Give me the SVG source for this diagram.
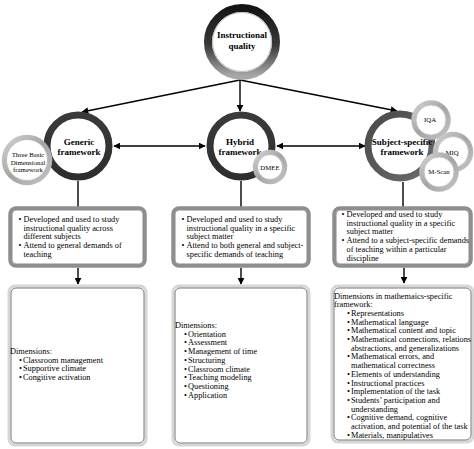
<svg xmlns="http://www.w3.org/2000/svg" width="474" height="449" viewBox="0 0 474 449">
<style>
text{font-family:"Liberation Serif","Times New Roman",serif;fill:#000}
.t{font-size:8.3px}
.h{font-size:9px;font-weight:bold;text-anchor:middle}
.s{font-size:6.8px;text-anchor:middle}
.line{stroke:#000;stroke-width:1.4;fill:none}
.bigring{fill:#fff;stroke:url(#gDark);stroke-width:7}
.smallring{fill:#fff;stroke:url(#gLight);stroke-width:4.5}
.smallin{fill:none;stroke:#9a9a9a;stroke-width:0.6}
.ubox{fill:#fff;stroke:#8e8e8e;stroke-width:3.5}
.uboxin{fill:none;stroke:#5a5a5a;stroke-width:0.7}
.lbox{fill:#fff;stroke:#d6d6d6;stroke-width:3}
.lboxin{fill:none;stroke:#6a6a6a;stroke-width:0.9}
</style>
<defs>
<linearGradient id="gTop" x1="0" y1="0" x2="0" y2="1">
<stop offset="0" stop-color="#141414"/><stop offset="0.55" stop-color="#3a3a3a"/><stop offset="1" stop-color="#a8a8a8"/>
</linearGradient>
<linearGradient id="gDark" x1="0" y1="0" x2="0" y2="1">
<stop offset="0" stop-color="#3a3a3a"/><stop offset="1" stop-color="#2e2e2e"/>
</linearGradient>
<linearGradient id="gSub" x1="0" y1="0" x2="1" y2="1">
<stop offset="0" stop-color="#4a4a4a"/><stop offset="1" stop-color="#6a6a6a"/>
</linearGradient>
<linearGradient id="gLight" x1="0" y1="0" x2="1" y2="1">
<stop offset="0" stop-color="#d2d2d2"/><stop offset="0.5" stop-color="#a4a4a4"/><stop offset="1" stop-color="#c4c4c4"/>
</linearGradient>
<marker id="arr" viewBox="0 0 10 10" refX="9" refY="5" markerWidth="5" markerHeight="5" orient="auto-start-reverse" markerUnits="strokeWidth">
<path d="M0,0 L10,5 L0,10 z" fill="#000"/>
</marker>
</defs>

<g id="connectors">
<line class="line" x1="240" y1="80" x2="82" y2="112" marker-end="url(#arr)"/>
<line class="line" x1="240" y1="80" x2="240" y2="111" marker-end="url(#arr)"/>
<line class="line" x1="240" y1="80" x2="397" y2="111" marker-end="url(#arr)"/>
<line class="line" x1="114" y1="146" x2="205" y2="146" marker-start="url(#arr)" marker-end="url(#arr)"/>
<line class="line" x1="277" y1="146" x2="365" y2="146" marker-start="url(#arr)" marker-end="url(#arr)"/>
<line class="line" x1="78" y1="181" x2="78" y2="207"/>
<line class="line" x1="241" y1="181" x2="241" y2="207"/>
<line class="line" x1="403" y1="182" x2="403" y2="207"/>
<line class="line" x1="78" y1="268" x2="78" y2="284" marker-end="url(#arr)"/>
<line class="line" x1="241" y1="268" x2="241" y2="284" marker-end="url(#arr)"/>
<line class="line" x1="404" y1="268" x2="404" y2="283" marker-end="url(#arr)"/>
</g>

<g id="node-instructional-quality">
<circle cx="242" cy="42" r="34" fill="#fff" stroke="url(#gTop)" stroke-width="8"/>
<circle cx="242" cy="42" r="29.5" fill="none" stroke="#bdbdbd" stroke-width="1"/>
<text class="h" x="242" y="38">Instructional</text>
<text class="h" x="242" y="49">quality</text>
</g>

<g id="node-generic">
<circle class="bigring" cx="78" cy="146" r="31"/>
<text class="h" x="79" y="145">Generic</text>
<text class="h" x="79" y="155">framework</text>
</g>
<g id="node-three-basic">
<circle class="smallring" cx="27" cy="160" r="23"/>
<circle class="smallin" cx="27" cy="160" r="20.5"/>
<text class="s" x="28" y="157" font-size="6.4">Three Basic</text>
<text class="s" x="28" y="164.5" font-size="6.4">Dimensional</text>
<text class="s" x="28" y="172" font-size="6.4">framework</text>
</g>

<g id="node-hybrid">
<circle class="bigring" cx="241" cy="146" r="31"/>
<text class="h" x="240" y="145">Hybrid</text>
<text class="h" x="240" y="155">framework</text>
</g>
<g id="node-dmee">
<circle class="smallring" cx="270" cy="167" r="15"/>
<circle class="smallin" cx="270" cy="167" r="12.5"/>
<text class="s" x="270" y="169.5">DMEE</text>
</g>

<g id="node-subject">
<circle cx="400" cy="146" r="32" fill="#fff" stroke="url(#gSub)" stroke-width="7"/>
<text class="h" x="402" y="145">Subject-specific</text>
<text class="h" x="402" y="155">framework</text>
</g>
<g id="node-iqa">
<circle class="smallring" cx="431" cy="120" r="17.5"/>
<circle class="smallin" cx="431" cy="120" r="15"/>
<text class="s" x="430" y="122">IQA</text>
</g>
<g id="node-miq">
<circle class="smallring" cx="453" cy="152" r="18"/>
<circle class="smallin" cx="453" cy="152" r="15.5"/>
<text class="s" x="452" y="154.5">MIQ</text>
</g>
<g id="node-mscan">
<circle class="smallring" cx="439" cy="172" r="17.5"/>
<circle class="smallin" cx="439" cy="172" r="15"/>
<text class="s" x="439" y="174">M-Scan</text>
</g>

<g id="box-generic-desc">
<rect class="ubox" x="10" y="208" width="135" height="58" rx="6"/>
<rect class="uboxin" x="12" y="210" width="131" height="54" rx="4.5"/>
<text class="t" x="18.5" y="222">•</text><text class="t" x="23.5" y="222">Developed and used to study</text>
<text class="t" x="23.5" y="230.7">instructional quality across</text>
<text class="t" x="23.5" y="239.4">different subjects</text>
<text class="t" x="18.5" y="248.1">•</text><text class="t" x="23.5" y="248.1">Attend to general demands of</text>
<text class="t" x="23.5" y="256.8">teaching</text>
</g>

<g id="box-hybrid-desc">
<rect class="ubox" x="173" y="208" width="136" height="58" rx="6"/>
<rect class="uboxin" x="175" y="210" width="132" height="54" rx="4.5"/>
<text class="t" x="181.5" y="222">•</text><text class="t" x="186.5" y="222">Developed and used to study</text>
<text class="t" x="186.5" y="230.7">instructional quality in a specific</text>
<text class="t" x="186.5" y="239.4">subject matter</text>
<text class="t" x="181.5" y="248.1">•</text><text class="t" x="186.5" y="248.1">Attend to both general and subject-</text>
<text class="t" x="186.5" y="256.8">specific demands of teaching</text>
</g>

<g id="box-subject-desc">
<rect class="ubox" x="334" y="208" width="137" height="58" rx="6"/>
<rect class="uboxin" x="336" y="210" width="133" height="54" rx="4.5"/>
<text class="t" x="341.5" y="217">•</text><text class="t" x="346.5" y="217">Developed and used to  study</text>
<text class="t" x="346.5" y="225.7">instructional quality in a specific</text>
<text class="t" x="346.5" y="234.4">subject matter</text>
<text class="t" x="341.5" y="243.1">•</text><text class="t" x="346.5" y="243.1">Attend to a subject-specific demands</text>
<text class="t" x="346.5" y="251.8">of teaching within a particular</text>
<text class="t" x="346.5" y="260.5">discipline</text>
</g>

<g id="box-generic-dim">
<rect class="lbox" x="9" y="286" width="137" height="159" rx="6"/>
<rect class="lboxin" x="11" y="288" width="133" height="155" rx="5"/>
<text class="t" x="10" y="354">Dimensions:</text>
<text class="t" x="19" y="362.7">•</text><text class="t" x="23" y="362.7">Classroom management</text>
<text class="t" x="19" y="371.4">•</text><text class="t" x="23" y="371.4">Supportive climate</text>
<text class="t" x="19" y="380.1">•</text><text class="t" x="23" y="380.1">Congitive activation</text>
</g>

<g id="box-hybrid-dim">
<rect class="lbox" x="173" y="286" width="136" height="159" rx="6"/>
<rect class="lboxin" x="175" y="288" width="132" height="155" rx="5"/>
<text class="t" x="175" y="328">Dimensions:</text>
<text class="t" x="184" y="336.7">•</text><text class="t" x="188" y="336.7">Orientation</text>
<text class="t" x="184" y="345.4">•</text><text class="t" x="188" y="345.4">Assessment</text>
<text class="t" x="184" y="354.1">•</text><text class="t" x="188" y="354.1">Management of time</text>
<text class="t" x="184" y="362.8">•</text><text class="t" x="188" y="362.8">Structuring</text>
<text class="t" x="184" y="371.5">•</text><text class="t" x="188" y="371.5">Classroom climate</text>
<text class="t" x="184" y="380.2">•</text><text class="t" x="188" y="380.2">Teaching modeling</text>
<text class="t" x="184" y="388.9">•</text><text class="t" x="188" y="388.9">Questioning</text>
<text class="t" x="184" y="397.6">•</text><text class="t" x="188" y="397.6">Application</text>
</g>

<g id="box-subject-dim">
<rect class="lbox" x="332" y="286" width="141" height="156" rx="6"/>
<rect class="lboxin" x="334" y="288" width="137" height="152" rx="5"/>
<text class="t" x="334" y="298.5">Dimensions in mathemaics-specific</text>
<text class="t" x="334" y="307.2">framework:</text>
<text class="t" x="347" y="315.9">•</text><text class="t" x="351" y="315.9">Representations</text>
<text class="t" x="347" y="324.6">•</text><text class="t" x="351" y="324.6">Mathematical language</text>
<text class="t" x="347" y="333.3">•</text><text class="t" x="351" y="333.3">Mathematical content and topic</text>
<text class="t" x="347" y="342">•</text><text class="t" x="351" y="342">Mathematical connections, relations</text>
<text class="t" x="351" y="350.7">abstractions, and generalizations</text>
<text class="t" x="347" y="359.4">•</text><text class="t" x="351" y="359.4">Mathematical errors, and</text>
<text class="t" x="351" y="368.1">mathematical correctness</text>
<text class="t" x="347" y="376.8">•</text><text class="t" x="351" y="376.8">Elements of understanding</text>
<text class="t" x="347" y="385.5">•</text><text class="t" x="351" y="385.5">Instructional practices</text>
<text class="t" x="347" y="394.2">•</text><text class="t" x="351" y="394.2">Implementation of the task</text>
<text class="t" x="347" y="402.9">•</text><text class="t" x="351" y="402.9">Students’ participation and</text>
<text class="t" x="351" y="411.6">understanding</text>
<text class="t" x="347" y="420.3">•</text><text class="t" x="351" y="420.3">Cognitive demand, cognitive</text>
<text class="t" x="351" y="429">activation, and potential of the task</text>
<text class="t" x="347" y="437.7">•</text><text class="t" x="351" y="437.7">Materials, manipulatives</text>
</g>
</svg>
